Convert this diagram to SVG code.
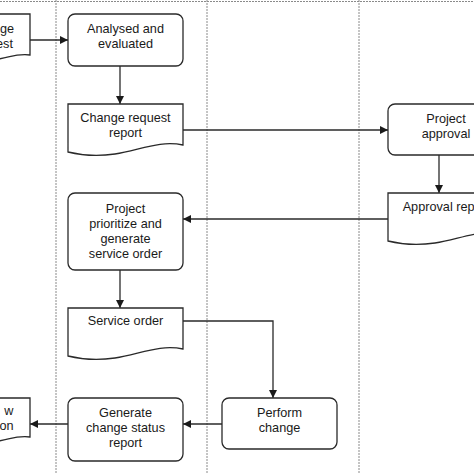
<svg xmlns="http://www.w3.org/2000/svg" width="474" height="474" viewBox="0 0 474 474">
<defs>
<style>
.lane{stroke:#8a8a8a;stroke-width:1;stroke-dasharray:2 1;fill:none}
.box{fill:#fff;stroke:#2a2a2a;stroke-width:1.3}
.edge{fill:none;stroke:#2a2a2a;stroke-width:1.3}
text{font-family:"Liberation Sans",Arial,sans-serif;font-size:12.7px;fill:#1a1a1a;text-anchor:middle}
</style>
<marker id="ah" viewBox="0 0 10 10" refX="10" refY="5" markerWidth="8" markerHeight="8" markerUnits="userSpaceOnUse" orient="auto">
<path d="M0,0 L10,5 L0,10 Z" fill="#1a1a1a"/>
</marker>
</defs>
<rect width="474" height="474" fill="#fff"/>
<g id="lanes">
<line class="lane" x1="0" y1="1.5" x2="474" y2="1.5"/>
<line class="lane" x1="56" y1="0" x2="56" y2="474"/>
<line class="lane" x1="207" y1="0" x2="207" y2="474"/>
<line class="lane" x1="359" y1="0" x2="359" y2="474"/>
</g>
<g id="connectors">
<path class="edge" d="M30,40 H68" marker-end="url(#ah)"/>
<path class="edge" d="M120,66 V104" marker-end="url(#ah)"/>
<path class="edge" d="M183,130 H388" marker-end="url(#ah)"/>
<path class="edge" d="M439,155 V193" marker-end="url(#ah)"/>
<path class="edge" d="M388,219 H183" marker-end="url(#ah)"/>
<path class="edge" d="M120,270 V308" marker-end="url(#ah)"/>
<path class="edge" d="M183,321 H273 V398" marker-end="url(#ah)"/>
<path class="edge" d="M222,424 H183" marker-end="url(#ah)"/>
<path class="edge" d="M68,424 H30" marker-end="url(#ah)"/>
</g>
<g id="change-request">
<path class="box" d="M-46,14 H30 V55 C14,53 8,59 -10,60 C-25,61 -36,60 -46,59 Z"/>
<text x="-8" y="32.5" style="text-anchor:end" transform="translate(22,0)">ge</text>
<text x="-8" y="47.5" style="text-anchor:end" transform="translate(21,0)">est</text>
</g>
<g id="analysed">
<rect class="box" x="68" y="14" width="115" height="52" rx="7"/>
<text x="125.5" y="33">Analysed and</text>
<text x="125.5" y="48">evaluated</text>
</g>
<g id="change-request-report">
<path class="box" d="M68,104 H183 V145 C160,140 140,150 115,154 C95,157 80,155 68,152 Z"/>
<text x="125.5" y="121.5">Change request</text>
<text x="125.5" y="136.5">report</text>
</g>
<g id="project-approval">
<rect class="box" x="388" y="104" width="115" height="51" rx="7"/>
<text x="446" y="122.5">Project</text>
<text x="446" y="137.5">approval</text>
</g>
<g id="approval-report">
<path class="box" d="M388,193 H503 V234 C480,229 460,239 435,243 C415,246 400,244 388,241 Z"/>
<text x="446" y="211">Approval report</text>
</g>
<g id="project-prioritize">
<rect class="box" x="68" y="193" width="115" height="77" rx="7"/>
<text x="125.5" y="212.5">Project</text>
<text x="125.5" y="227.5">prioritize and</text>
<text x="125.5" y="242.5">generate</text>
<text x="125.5" y="257.5">service order</text>
</g>
<g id="service-order">
<path class="box" d="M68,308 H183 V349 C160,344 140,354 115,358 C95,361 80,359 68,356 Z"/>
<text x="125.5" y="325">Service order</text>
</g>
<g id="perform-change">
<rect class="box" x="222" y="398" width="115" height="51" rx="7"/>
<text x="279.5" y="416.5">Perform</text>
<text x="279.5" y="431.5">change</text>
</g>
<g id="generate-report">
<rect class="box" x="68" y="398" width="115" height="63" rx="7"/>
<text x="125.5" y="416.5">Generate</text>
<text x="125.5" y="432">change status</text>
<text x="125.5" y="446.5">report</text>
</g>
<g id="left-bottom-doc">
<path class="box" d="M-46,398 H30 V437 C14,435 8,441 -10,442 C-25,443 -36,442 -46,441 Z"/>
<text x="13.5" y="414.5" style="text-anchor:end">w</text>
<text x="13.5" y="429.5" style="text-anchor:end">on</text>
</g>
</svg>
